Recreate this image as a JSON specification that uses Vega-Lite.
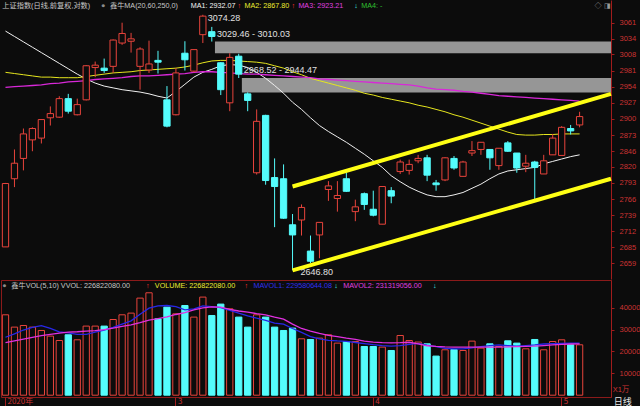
{
  "$schema": "https://vega.github.io/schema/vega-lite/v6.json",
  "background": "#0c0c0c",
  "padding": 0,
  "spacing": 0,
  "config": {
    "view": {"stroke": null},
    "font": "Liberation Sans",
    "text": {"font": "Liberation Sans, Noto Sans CJK SC"},
    "axis": {"labelOverlap": false, "labelFlush": false, "labelBound": false, "grid": false, "title": null}
  },
  "datasets": {
    "k": [
      {"d":"2020-02-04","o":2686,"h":2793,"l":2686,"c":2792,"v":36760,"m1":3047,"m2":2978,"m3":2953,"v1":26500,"v2":24000},
      {"d":"2020-02-05","o":2800,"h":2849,"l":2786,"c":2826,"v":31130,"m1":3038,"m2":2976,"m3":2954,"v1":28000,"v2":24800},
      {"d":"2020-02-06","o":2834,"h":2884,"l":2814,"c":2875,"v":31870,"m1":3029,"m2":2974,"m3":2955,"v1":29800,"v2":25600},
      {"d":"2020-02-07","o":2865,"h":2886,"l":2846,"c":2884,"v":31130,"m1":3020,"m2":2972,"m3":2956,"v1":31000,"v2":26400},
      {"d":"2020-02-10","o":2868,"h":2899,"l":2859,"c":2899,"v":29590,"m1":3011,"m2":2970,"m3":2957,"v1":31800,"v2":27200},
      {"d":"2020-02-11","o":2902,"h":2921,"l":2889,"c":2909,"v":27020,"m1":3002,"m2":2970,"m3":2959,"v1":30500,"v2":27800},
      {"d":"2020-02-12","o":2903,"h":2938,"l":2902,"c":2934,"v":25010,"m1":2993,"m2":2969,"m3":2960,"v1":29000,"v2":28400},
      {"d":"2020-02-13","o":2934,"h":2942,"l":2909,"c":2913,"v":27620,"m1":2984,"m2":2969,"m3":2962,"v1":28500,"v2":28800},
      {"d":"2020-02-14","o":2907,"h":2934,"l":2906,"c":2924,"v":25330,"m1":2975,"m2":2969,"m3":2963,"v1":27800,"v2":29000},
      {"d":"2020-02-17","o":2932,"h":2990,"l":2931,"c":2989,"v":31590,"m1":2967,"m2":2971,"m3":2964,"v1":27800,"v2":29300},
      {"d":"2020-02-18","o":2986,"h":2996,"l":2970,"c":2990,"v":31590,"m1":2960,"m2":2973,"m3":2966,"v1":28800,"v2":29500},
      {"d":"2020-02-19","o":2985,"h":3001,"l":2977,"c":2981,"v":31590,"m1":2955,"m2":2975,"m3":2967,"v1":29800,"v2":30000},
      {"d":"2020-02-20","o":2988,"h":3033,"l":2977,"c":3032,"v":34610,"m1":2952,"m2":2977,"m3":2968,"v1":31000,"v2":30700},
      {"d":"2020-02-21","o":3027,"h":3061,"l":3024,"c":3043,"v":36760,"m1":2949,"m2":2978,"m3":2969,"v1":32500,"v2":31500},
      {"d":"2020-02-24","o":3030,"h":3044,"l":3011,"c":3034,"v":37530,"m1":2947,"m2":2979,"m3":2971,"v1":34000,"v2":32200},
      {"d":"2020-02-25","o":2988,"h":3020,"l":2949,"c":3017,"v":44390,"m1":2945,"m2":2981,"m3":2972,"v1":37000,"v2":33200},
      {"d":"2020-02-26","o":2982,"h":3031,"l":2977,"c":2992,"v":46820,"m1":2942,"m2":2982,"m3":2972,"v1":39800,"v2":34300},
      {"d":"2020-02-27","o":2998,"h":3014,"l":2976,"c":2995,"v":34930,"m1":2938,"m2":2983,"m3":2973,"v1":40800,"v2":35000},
      {"d":"2020-02-28","o":2932,"h":2955,"l":2886,"c":2888,"v":40280,"m1":2935,"m2":2984,"m3":2974,"v1":41000,"v2":35800},
      {"d":"2020-03-02","o":2907,"h":2985,"l":2906,"c":2977,"v":37210,"m1":2946,"m2":2985,"m3":2975,"v1":40500,"v2":36900},
      {"d":"2020-03-03","o":3010,"h":3030,"l":2981,"c":2999,"v":41010,"m1":2958,"m2":2987,"m3":2976,"v1":39000,"v2":37800},
      {"d":"2020-03-04","o":2980,"h":3016,"l":2978,"c":3016,"v":35710,"m1":2970,"m2":2990,"m3":2978,"v1":39500,"v2":39000},
      {"d":"2020-03-05","o":3041,"h":3074.28,"l":3027,"c":3072,"v":44850,"m1":2978,"m2":2994,"m3":2979,"v1":40800,"v2":39900},
      {"d":"2020-03-06","o":3046,"h":3054,"l":3029.46,"c":3038,"v":36440,"m1":2983,"m2":2997,"m3":2979,"v1":40500,"v2":40400},
      {"d":"2020-03-09","o":2994,"h":2995,"l":2940,"c":2949,"v":41650,"m1":2989,"m2":2998,"m3":2978,"v1":40000,"v2":40300},
      {"d":"2020-03-10","o":2927,"h":3010.03,"l":2913,"c":3003,"v":39500,"m1":2991,"m2":2998,"m3":2977,"v1":38800,"v2":39200},
      {"d":"2020-03-11","o":3005,"h":3009,"l":2968.52,"c":2975,"v":35710,"m1":2990,"m2":2997,"m3":2976,"v1":37500,"v2":38500},
      {"d":"2020-03-12","o":2942,"h":2944.47,"l":2913,"c":2931,"v":31130,"m1":2986,"m2":2996,"m3":2975,"v1":36300,"v2":38000},
      {"d":"2020-03-13","o":2810,"h":2916,"l":2807,"c":2896,"v":36760,"m1":2978,"m2":2995,"m3":2975,"v1":35200,"v2":37300},
      {"d":"2020-03-16","o":2906,"h":2907,"l":2790,"c":2797,"v":35710,"m1":2968,"m2":2993,"m3":2974,"v1":34200,"v2":36700},
      {"d":"2020-03-17","o":2802,"h":2834,"l":2719,"c":2787,"v":31130,"m1":2956,"m2":2989,"m3":2973,"v1":33000,"v2":35700},
      {"d":"2020-03-18","o":2800,"h":2824,"l":2733,"c":2734,"v":29590,"m1":2943,"m2":2985,"m3":2972,"v1":32500,"v2":34800},
      {"d":"2020-03-19","o":2723,"h":2741,"l":2646.8,"c":2706,"v":30680,"m1":2928,"m2":2979,"m3":2971,"v1":30500,"v2":32500},
      {"d":"2020-03-20","o":2731,"h":2757,"l":2705,"c":2752,"v":25790,"m1":2916,"m2":2974,"m3":2970,"v1":28700,"v2":30500},
      {"d":"2020-03-23","o":2679,"h":2705,"l":2659,"c":2662,"v":25480,"m1":2902,"m2":2968,"m3":2969,"v1":26800,"v2":29300},
      {"d":"2020-03-24","o":2706,"h":2727,"l":2667,"c":2727,"v":26100,"m1":2889,"m2":2964,"m3":2967,"v1":25800,"v2":28300},
      {"d":"2020-03-25","o":2782,"h":2796,"l":2763,"c":2788,"v":27620,"m1":2879,"m2":2960,"m3":2966,"v1":25100,"v2":27400},
      {"d":"2020-03-26","o":2767,"h":2796,"l":2745,"c":2772,"v":23810,"m1":2870,"m2":2956,"m3":2965,"v1":24800,"v2":26800},
      {"d":"2020-03-27","o":2800,"h":2810,"l":2778,"c":2779,"v":24550,"m1":2861,"m2":2952,"m3":2964,"v1":24600,"v2":26100},
      {"d":"2020-03-30","o":2745,"h":2765,"l":2729,"c":2753,"v":24550,"m1":2851,"m2":2948,"m3":2963,"v1":24100,"v2":25500},
      {"d":"2020-03-31","o":2775,"h":2777,"l":2748,"c":2757,"v":22270,"m1":2841,"m2":2943,"m3":2962,"v1":23600,"v2":24700},
      {"d":"2020-04-01","o":2749,"h":2780,"l":2737,"c":2739,"v":22270,"m1":2830,"m2":2940,"m3":2961,"v1":23100,"v2":24300},
      {"d":"2020-04-02","o":2724,"h":2787,"l":2724,"c":2787,"v":21990,"m1":2819,"m2":2936,"m3":2960,"v1":22700,"v2":24000},
      {"d":"2020-04-03","o":2780,"h":2786,"l":2759,"c":2771,"v":20440,"m1":2805,"m2":2933,"m3":2959,"v1":22400,"v2":23900},
      {"d":"2020-04-07","o":2812,"h":2832,"l":2808,"c":2828,"v":27300,"m1":2795,"m2":2930,"m3":2958,"v1":22700,"v2":24000},
      {"d":"2020-04-08","o":2814,"h":2832,"l":2807,"c":2824,"v":25000,"m1":2786,"m2":2927,"m3":2957,"v1":23200,"v2":24200},
      {"d":"2020-04-09","o":2830,"h":2840,"l":2826,"c":2834,"v":24300,"m1":2779,"m2":2923,"m3":2955,"v1":23700,"v2":23500},
      {"d":"2020-04-10","o":2835,"h":2840,"l":2796,"c":2806,"v":23500,"m1":2773,"m2":2920,"m3":2952,"v1":22900,"v2":22600},
      {"d":"2020-04-13","o":2793,"h":2798,"l":2780,"c":2790,"v":17880,"m1":2770,"m2":2916,"m3":2950,"v1":22200,"v2":22300},
      {"d":"2020-04-14","o":2798,"h":2836,"l":2796,"c":2835,"v":20760,"m1":2770,"m2":2912,"m3":2949,"v1":21400,"v2":22100},
      {"d":"2020-04-15","o":2834,"h":2838,"l":2815,"c":2818,"v":20900,"m1":2773,"m2":2907,"m3":2948,"v1":21200,"v2":22000},
      {"d":"2020-04-16","o":2804,"h":2830,"l":2804,"c":2828,"v":20440,"m1":2777,"m2":2903,"m3":2946,"v1":21200,"v2":22000},
      {"d":"2020-04-17","o":2843,"h":2863,"l":2838,"c":2847,"v":24730,"m1":2784,"m2":2898,"m3":2945,"v1":21600,"v2":22000},
      {"d":"2020-04-20","o":2849,"h":2861,"l":2840,"c":2861,"v":21530,"m1":2791,"m2":2893,"m3":2943,"v1":22200,"v2":22000},
      {"d":"2020-04-21","o":2849,"h":2849,"l":2815,"c":2835,"v":23500,"m1":2800,"m2":2888,"m3":2941,"v1":22700,"v2":22000},
      {"d":"2020-04-22","o":2822,"h":2851,"l":2815,"c":2851,"v":22270,"m1":2808,"m2":2883,"m3":2939,"v1":23000,"v2":22000},
      {"d":"2020-04-23","o":2860,"h":2863,"l":2845,"c":2846,"v":24870,"m1":2813,"m2":2878,"m3":2938,"v1":22700,"v2":22100},
      {"d":"2020-04-24","o":2843,"h":2843,"l":2810,"c":2818,"v":23810,"m1":2815,"m2":2874,"m3":2937,"v1":22400,"v2":22200},
      {"d":"2020-04-27","o":2821,"h":2840,"l":2811,"c":2826,"v":21210,"m1":2817,"m2":2873,"m3":2936,"v1":22700,"v2":22300},
      {"d":"2020-04-28","o":2828,"h":2830,"l":2765,"c":2819,"v":25480,"m1":2819,"m2":2873,"m3":2935,"v1":23000,"v2":22400},
      {"d":"2020-04-29","o":2808,"h":2840,"l":2808,"c":2830,"v":20760,"m1":2825,"m2":2874,"m3":2934,"v1":23400,"v2":22700},
      {"d":"2020-04-30","o":2840,"h":2875,"l":2840,"c":2868,"v":24550,"m1":2829,"m2":2874,"m3":2933,"v1":23600,"v2":23000},
      {"d":"2020-05-06","o":2839,"h":2888,"l":2839,"c":2886,"v":25330,"m1":2833,"m2":2875,"m3":2932,"v1":23700,"v2":23200},
      {"d":"2020-05-07","o":2884,"h":2890,"l":2874,"c":2880,"v":23040,"m1":2837,"m2":2875,"m3":2931,"v1":23800,"v2":23400},
      {"d":"2020-05-08","o":2890,"h":2912,"l":2886,"c":2904,"v":23040,"m1":2840,"m2":2875,"m3":2930,"v1":23800,"v2":23500}
    ],
    "gaps": [
      {"d":"2020-03-06","hi":3029.46,"lo":3010.03,"t":"3029.46 - 3010.03"},
      {"d":"2020-03-11","hi":2968.52,"lo":2944.47,"t":"2968.52 - 2944.47"}
    ],
    "chan": [
      {"d":"2020-03-19","p0":2787,"p1":2942},
      {"d":"2020-03-19","p0":2646.8,"p1":2800}
    ],
    "hdr": [
      {"d":"2020-02-04","t":"上证指数(日线,前复权,对数)","c":"#c8c8c8"},
      {"d":"2020-02-19","t":"●","c":"#8c8c8c"},
      {"d":"2020-02-20","t":"鑫牛MA(20,60,250,0)","c":"#c8c8c8"},
      {"d":"2020-03-04","t":"MA1: 2932.07","c":"#f4f4f4"},
      {"d":"2020-03-12","t":"MA2: 2867.80","c":"#ecec30"},
      {"d":"2020-03-20","t":"MA3: 2923.21","c":"#e040e0"},
      {"d":"2020-03-31","t":"MA4: -","c":"#30c030"},
      {"d":"2020-05-12","t":"◇ ◨","c":"#9a9a9a"}
    ],
    "harr": [
      {"d":"2020-03-11","t":"↑","c":"#ff3030"},
      {"d":"2020-03-19","t":"↑","c":"#ff3030"},
      {"d":"2020-03-30","t":"↓","c":"#40e8e8"}
    ],
    "vhdr": [
      {"d":"2020-02-04","t":"●","c":"#8c8c8c"},
      {"d":"2020-02-05","t":"鑫牛VOL(5,10) VVOL: 226822080.00","c":"#c8c8c8"},
      {"d":"2020-02-27","t":"VOLUME: 226822080.00","c":"#ecec30"},
      {"d":"2020-03-13","t":"MAVOL1: 229580644.08","c":"#3030f0"},
      {"d":"2020-03-27","t":"MAVOL2: 231319056.00","c":"#e040e0"}
    ],
    "varr": [
      {"d":"2020-02-26","t":"↑","c":"#ff3030"},
      {"d":"2020-03-12","t":"↑","c":"#ff3030"},
      {"d":"2020-03-26","t":"↓","c":"#40e8e8"},
      {"d":"2020-04-13","t":"↓","c":"#40e8e8"}
    ]
  },
  "vconcat": [
    {
      "width": 610,
      "height": 279,
      "encoding": {
        "x": {
          "field": "d", "type": "ordinal", "axis": null,
          "scale": {
            "type": "band", "paddingInner": 0.3, "paddingOuter": 0.15,
            "domain": ["2020-02-04","2020-02-05","2020-02-06","2020-02-07","2020-02-10","2020-02-11","2020-02-12","2020-02-13","2020-02-14","2020-02-17","2020-02-18","2020-02-19","2020-02-20","2020-02-21","2020-02-24","2020-02-25","2020-02-26","2020-02-27","2020-02-28","2020-03-02","2020-03-03","2020-03-04","2020-03-05","2020-03-06","2020-03-09","2020-03-10","2020-03-11","2020-03-12","2020-03-13","2020-03-16","2020-03-17","2020-03-18","2020-03-19","2020-03-20","2020-03-23","2020-03-24","2020-03-25","2020-03-26","2020-03-27","2020-03-30","2020-03-31","2020-04-01","2020-04-02","2020-04-03","2020-04-07","2020-04-08","2020-04-09","2020-04-10","2020-04-13","2020-04-14","2020-04-15","2020-04-16","2020-04-17","2020-04-20","2020-04-21","2020-04-22","2020-04-23","2020-04-24","2020-04-27","2020-04-28","2020-04-29","2020-04-30","2020-05-06","2020-05-07","2020-05-08","2020-05-11","2020-05-12","2020-05-13"]
          }
        }
      },
      "layer": [
        {
          "data": {"name": "gaps"},
          "mark": {"type": "rect", "color": "#969696"},
          "encoding": {
            "x": {"field": "d", "type": "ordinal", "bandPosition": 1},
            "x2": {"value": "width"},
            "y": {
              "field": "hi", "type": "quantitative", "title": null,
              "scale": {"domain": [2632.3, 3099], "zero": false, "nice": false},
              "axis": {
                "orient": "right", "title": null, "grid": false, "tickCount": 100,
                "values": [3061,3034,3008,2981,2954,2927,2900,2873,2846,2820,2793,2766,2739,2712,2685,2659],
                "format": "d", "domainColor": "#a01c1c", "tickColor": "#a01c1c", "tickSize": 3,
                "labelColor": "#cc3333", "labelFont": "Liberation Sans",
                "labelFontSize": 7.5, "labelPadding": 5, "labelOverlap": false, "labelFlush": false
              }
            },
            "y2": {"field": "lo"}
          }
        },
        {
          "data": {"name": "k"},
          "mark": {"type": "line", "color": "#f0f0f0", "strokeWidth": 1},
          "encoding": {"y": {"field": "m1", "type": "quantitative", "title": null}}
        },
        {
          "data": {"name": "k"},
          "mark": {"type": "line", "color": "#e6e61e", "strokeWidth": 1},
          "encoding": {"y": {"field": "m2", "type": "quantitative", "title": null}}
        },
        {
          "data": {"name": "k"},
          "mark": {"type": "line", "color": "#d828d8", "strokeWidth": 1.3},
          "encoding": {"y": {"field": "m3", "type": "quantitative", "title": null}}
        },
        {
          "data": {"name": "k"},
          "mark": {"type": "rule", "strokeWidth": 1},
          "encoding": {
            "y": {"field": "l", "type": "quantitative", "title": null},
            "y2": {"field": "h"},
            "color": {"condition": {"test": "datum.c >= datum.o", "value": "#e8443c"}, "value": "#54fcfc"}
          }
        },
        {
          "data": {"name": "k"},
          "mark": {"type": "bar", "strokeWidth": 1},
          "encoding": {
            "y": {"field": "o", "type": "quantitative", "title": null},
            "y2": {"field": "c"},
            "fill": {"condition": {"test": "datum.c >= datum.o", "value": "#0c0c0c"}, "value": "#54fcfc"},
            "stroke": {"condition": {"test": "datum.c >= datum.o", "value": "#e8443c"}, "value": "#54fcfc"}
          }
        },
        {
          "data": {"name": "chan"},
          "mark": {"type": "rule", "color": "#ffff14", "strokeWidth": 4, "strokeCap": "butt"},
          "encoding": {
            "x": {"field": "d", "type": "ordinal", "bandPosition": 0.5},
            "x2": {"value": "width"},
            "y": {"field": "p0", "type": "quantitative", "title": null},
            "y2": {"field": "p1"}
          }
        },
        {
          "data": {"name": "gaps"},
          "mark": {"type": "text", "align": "left", "baseline": "middle", "dx": 2, "dy": -8, "fontSize": 9, "font": "Liberation Sans", "color": "#e0e0e0"},
          "encoding": {
            "x": {"field": "d", "type": "ordinal", "bandPosition": 1},
            "y": {"field": "hi", "type": "quantitative", "title": null},
            "text": {"field": "t"}
          }
        },
        {
          "data": {"name": "k"},
          "transform": [{"filter": "datum.h == 3074.28"}],
          "mark": {"type": "text", "align": "left", "baseline": "middle", "dx": 5, "dy": 3, "fontSize": 9, "font": "Liberation Sans", "color": "#e0e0e0"},
          "encoding": {
            "y": {"field": "h", "type": "quantitative", "title": null},
            "text": {"field": "h", "type": "quantitative", "format": ".2f"}
          }
        },
        {
          "data": {"name": "k"},
          "transform": [{"filter": "datum.l == 2646.8"}],
          "mark": {"type": "text", "align": "left", "baseline": "middle", "dx": 8, "dy": 2, "fontSize": 9, "font": "Liberation Sans", "color": "#e0e0e0"},
          "encoding": {
            "y": {"field": "l", "type": "quantitative", "title": null},
            "text": {"field": "l", "type": "quantitative", "format": ".2f"}
          }
        },
        {
          "data": {"name": "hdr"},
          "mark": {"type": "text", "align": "left", "baseline": "top", "dy": 2, "fontSize": 7.2},
          "encoding": {
            "x": {"field": "d", "type": "ordinal", "bandPosition": 0},
            "y": {"datum": 3099, "type": "quantitative", "title": null},
            "text": {"field": "t"},
            "color": {"field": "c", "type": "nominal", "scale": null}
          }
        },
        {
          "data": {"name": "harr"},
          "mark": {"type": "text", "align": "left", "baseline": "top", "dx": 2, "dy": 2, "fontSize": 7.2},
          "encoding": {
            "x": {"field": "d", "type": "ordinal", "bandPosition": 0},
            "y": {"datum": 3099, "type": "quantitative", "title": null},
            "text": {"field": "t"},
            "color": {"field": "c", "type": "nominal", "scale": null}
          }
        }
      ]
    },
    {
      "width": 610,
      "height": 117,
      "view": {"stroke": "#8b1a1a"},
      "encoding": {
        "x": {
          "field": "d", "type": "ordinal",
          "scale": {
            "type": "band", "paddingInner": 0.3, "paddingOuter": 0.15,
            "domain": ["2020-02-04","2020-02-05","2020-02-06","2020-02-07","2020-02-10","2020-02-11","2020-02-12","2020-02-13","2020-02-14","2020-02-17","2020-02-18","2020-02-19","2020-02-20","2020-02-21","2020-02-24","2020-02-25","2020-02-26","2020-02-27","2020-02-28","2020-03-02","2020-03-03","2020-03-04","2020-03-05","2020-03-06","2020-03-09","2020-03-10","2020-03-11","2020-03-12","2020-03-13","2020-03-16","2020-03-17","2020-03-18","2020-03-19","2020-03-20","2020-03-23","2020-03-24","2020-03-25","2020-03-26","2020-03-27","2020-03-30","2020-03-31","2020-04-01","2020-04-02","2020-04-03","2020-04-07","2020-04-08","2020-04-09","2020-04-10","2020-04-13","2020-04-14","2020-04-15","2020-04-16","2020-04-17","2020-04-20","2020-04-21","2020-04-22","2020-04-23","2020-04-24","2020-04-27","2020-04-28","2020-04-29","2020-04-30","2020-05-06","2020-05-07","2020-05-08","2020-05-11","2020-05-12","2020-05-13"]
          },
          "axis": {
            "title": null, "orient": "bottom", "domain": false, "grid": false,
            "values": ["2020-02-04","2020-03-02","2020-04-01","2020-05-06"],
            "labelExpr": "datum.value == '2020-02-04' ? '2020年' : '' + parseInt(substring(datum.value, 5, 7))",
            "ticks": true, "tickSize": 10, "tickColor": "#a01c1c",
            "labelAlign": "left", "labelBaseline": "top", "labelPadding": -10, "labelOffset": 2,
            "labelColor": "#cc3333", "labelFont": "Noto Sans CJK SC", "labelFontSize": 8, "labelAngle": 0
          }
        }
      },
      "layer": [
        {
          "data": {"name": "k"},
          "mark": {"type": "bar", "strokeWidth": 1},
          "encoding": {
            "y": {
              "field": "v", "type": "quantitative", "title": null,
              "scale": {"domain": [-823, 52670], "zero": false, "nice": false},
              "axis": {
                "orient": "right", "title": null, "grid": false, "tickCount": 100,
                "values": [10000, 20000, 30000, 40000], "format": "d",
                "domainColor": "#a01c1c", "tickColor": "#a01c1c", "tickSize": 3,
                "labelColor": "#cc3333", "labelFont": "Liberation Sans",
                "labelFontSize": 7.5, "labelPadding": 5, "labelOverlap": false, "labelFlush": false
              }
            },
            "y2": {"datum": 0},
            "fill": {"condition": {"test": "datum.c >= datum.o", "value": "#0c0c0c"}, "value": "#54fcfc"},
            "stroke": {"condition": {"test": "datum.c >= datum.o", "value": "#e8443c"}, "value": "#54fcfc"}
          }
        },
        {
          "data": {"name": "k"},
          "mark": {"type": "line", "color": "#2828e8", "strokeWidth": 1.3},
          "encoding": {"y": {"field": "v1", "type": "quantitative", "title": null}}
        },
        {
          "data": {"name": "k"},
          "mark": {"type": "line", "color": "#e030e0", "strokeWidth": 1.3},
          "encoding": {"y": {"field": "v2", "type": "quantitative", "title": null}}
        },
        {
          "data": {"name": "vhdr"},
          "mark": {"type": "text", "align": "left", "baseline": "top", "dy": 2, "fontSize": 7.2},
          "encoding": {
            "x": {"field": "d", "type": "ordinal", "bandPosition": 0},
            "y": {"datum": 52670, "type": "quantitative", "title": null},
            "text": {"field": "t"},
            "color": {"field": "c", "type": "nominal", "scale": null}
          }
        },
        {
          "data": {"name": "varr"},
          "mark": {"type": "text", "align": "left", "baseline": "top", "dx": 0, "dy": 2, "fontSize": 7.2},
          "encoding": {
            "x": {"field": "d", "type": "ordinal", "bandPosition": 0},
            "y": {"datum": 52670, "type": "quantitative", "title": null},
            "text": {"field": "t"},
            "color": {"field": "c", "type": "nominal", "scale": null}
          }
        },
        {
          "data": {"values": [{"t": "X1万"}]},
          "mark": {"type": "text", "align": "left", "baseline": "bottom", "dx": 3, "dy": -1, "fontSize": 7.5, "color": "#cc3333", "clip": false},
          "encoding": {
            "x": {"datum": "2020-05-13", "type": "ordinal", "bandPosition": 1},
            "y": {"datum": 0, "type": "quantitative", "title": null},
            "text": {"field": "t"}
          }
        },
        {
          "data": {"values": [{"t": "日线"}]},
          "mark": {"type": "text", "align": "left", "baseline": "top", "dx": 4, "dy": 1, "fontSize": 9, "color": "#e8e8e8", "clip": false},
          "encoding": {
            "x": {"datum": "2020-05-13", "type": "ordinal", "bandPosition": 1},
            "y": {"datum": -823, "type": "quantitative", "title": null},
            "text": {"field": "t"}
          }
        }
      ]
    }
  ]
}
